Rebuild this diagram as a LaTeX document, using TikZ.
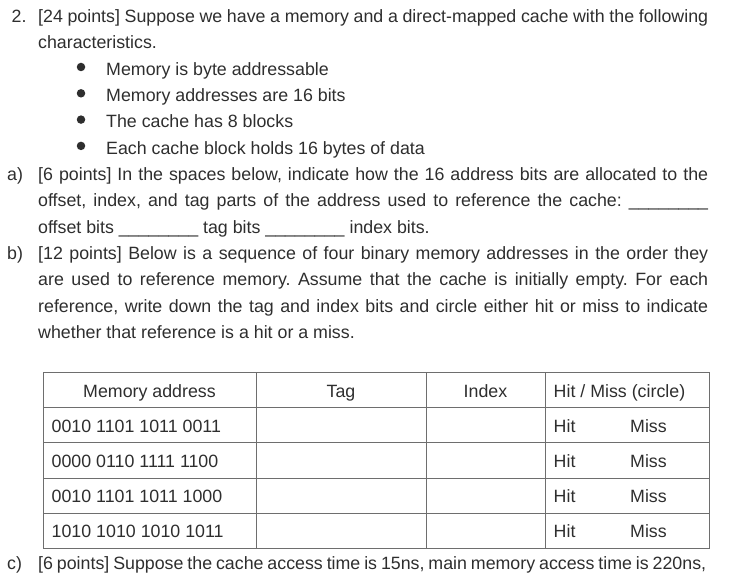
\documentclass[tikz,border=0pt]{standalone}
\usepackage{fontspec}
\setmainfont{Liberation Sans}
\definecolor{ink}{HTML}{2E2E2E}
\definecolor{rulegray}{HTML}{6E6E6E}
\frenchspacing
\newcommand{\fullline}[1]{\makebox[670pt][s]{#1}}
\newcommand{\blank}{\_\_\_\_\_\_\_\_}
\begin{document}
\begin{tikzpicture}[x=1pt, y=-1pt,
  txt/.style={anchor=base west, inner sep=0pt, text=ink, font=\fontsize{17.8}{21}\selectfont},
  ctxt/.style={txt, anchor=base},
  dot/.style={circle, fill=ink, inner sep=0pt, minimum size=8.5pt},
  grid/.style={draw=rulegray, line width=0.9pt}]
\useasboundingbox (0,0) rectangle (729,583);
% question header
\node[txt] (num) at (11.5,22.7) {2.};
\node[txt] (q1) at (38,22.7) {\fullline{[24 points] Suppose we have a memory and a direct-mapped cache with the following}};
\node[txt] (q2) at (38,49) {characteristics.};
% bullet list
\node[dot] (d1) at (81,67) {};
\node[dot] (d2) at (81,93.3) {};
\node[dot] (d3) at (81,119.6) {};
\node[dot] (d4) at (81,145.9) {};
\node[txt] (b1) at (106,75.3) {Memory is byte addressable};
\node[txt] (b2) at (106,101.6) {Memory addresses are 16 bits};
\node[txt] (b3) at (106,127.9) {The cache has 8 blocks};
\node[txt] (b4) at (106,154.2) {Each cache block holds 16 bytes of data};
% part a
\node[txt] (pa) at (7,180.6) {a)};
\node[txt] (a1) at (38,180.6) {\fullline{[6 points] In the spaces below, indicate how the 16 address bits are allocated to the}};
\node[txt] (a2) at (38,206.9) {\fullline{offset, index, and tag parts of the address used to reference the cache: \blank}};
\node[txt] (a3) at (38,233.2) {offset bits \blank{} tag bits \blank{} index bits.};
% part b
\node[txt] (pb) at (7,259.5) {b)};
\node[txt] (bb1) at (38,259.5) {\fullline{[12 points] Below is a sequence of four binary memory addresses in the order they}};
\node[txt] (bb2) at (38,285.8) {\fullline{are used to reference memory. Assume that the cache is initially empty. For each}};
\node[txt] (bb3) at (38,312.1) {\fullline{reference, write down the tag and index bits and circle either hit or miss to indicate}};
\node[txt] (bb4) at (38,338.4) {whether that reference is a hit or a miss.};
% table grid
\draw[grid] (43,372.5) rectangle (709,548.5);
\draw[grid] (256,372.5) -- (256,548.5);
\draw[grid] (426,372.5) -- (426,548.5);
\draw[grid] (545,372.5) -- (545,548.5);
\draw[grid] (43,407.7) -- (709,407.7);
\draw[grid] (43,442.9) -- (709,442.9);
\draw[grid] (43,478.1) -- (709,478.1);
\draw[grid] (43,513.3) -- (709,513.3);
% table header
\node[ctxt] (hmem) at (149.5,397) {Memory address};
\node[ctxt] (htag) at (341,397) {Tag};
\node[ctxt] (hidx) at (485.5,397) {Index};
\node[txt] (hhit) at (553.5,397) {Hit / Miss (circle)};
% table rows
\node[txt] (m1) at (51.5,432.2) {0010 1101 1011 0011};
\node[txt] (m2) at (51.5,467.4) {0000 0110 1111 1100};
\node[txt] (m3) at (51.5,502.6) {0010 1101 1011 1000};
\node[txt] (m4) at (51.5,537.8) {1010 1010 1010 1011};
\node[txt] (h1) at (553.5,432.2) {Hit};
\node[txt] (h2) at (553.5,467.4) {Hit};
\node[txt] (h3) at (553.5,502.6) {Hit};
\node[txt] (h4) at (553.5,537.8) {Hit};
\node[txt] (x1) at (630,432.2) {Miss};
\node[txt] (x2) at (630,467.4) {Miss};
\node[txt] (x3) at (630,502.6) {Miss};
\node[txt] (x4) at (630,537.8) {Miss};
% part c
\node[txt] (pc) at (7,569.5) {c)};
\node[txt] (c1) at (38,569.5) {\makebox[668pt][s]{[6 points] Suppose the cache access time is 15ns, main memory access time is 220ns,}};
\end{tikzpicture}
\end{document}
